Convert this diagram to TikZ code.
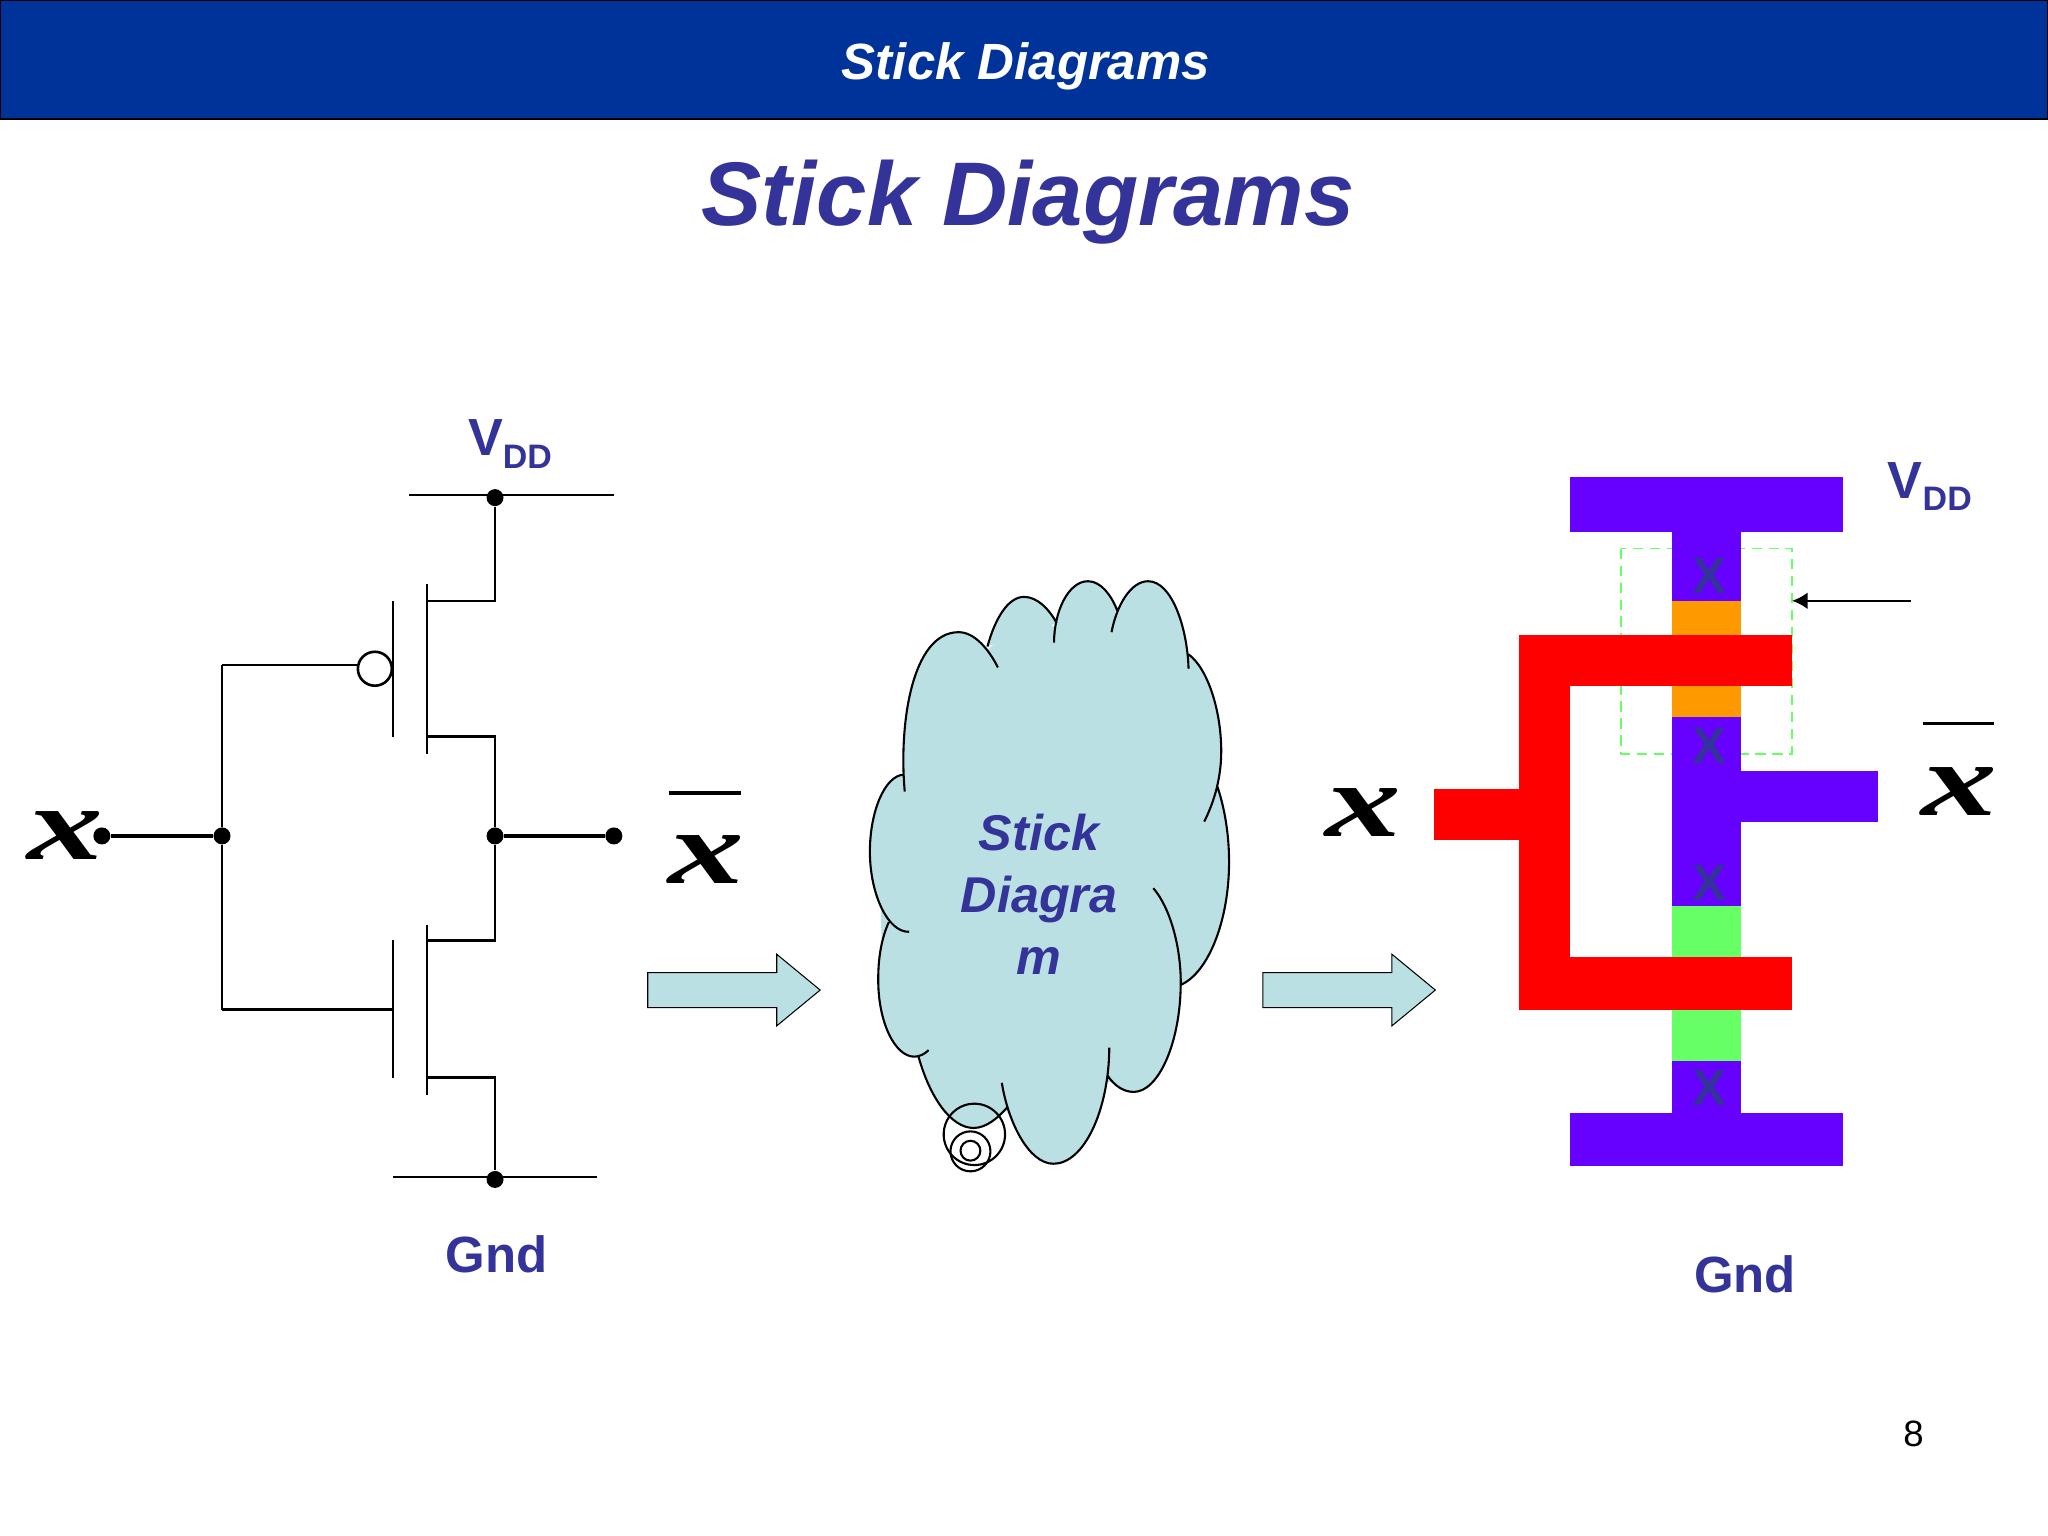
\documentclass[tikz,border=0pt]{standalone}
\usepackage{fontspec}
\setmainfont{Liberation Sans}
\newfontfamily\varfont{Liberation Serif}
\usetikzlibrary{shapes,arrows,arrows.meta,calc}
\definecolor{barblue}{HTML}{003399}
\definecolor{inkblue}{HTML}{333399}
\definecolor{cloudblue}{HTML}{BBE0E3}
\definecolor{metal}{HTML}{6600FF}
\definecolor{diffp}{HTML}{FF9900}
\definecolor{diffn}{HTML}{66FF66}
\tikzstyle{wire} = [draw, line width=1pt]
\tikzstyle{thickwire} = [draw, line width=1.3pt]
\tikzstyle{dot} = [circle, fill=black, inner sep=0pt, minimum size=6.5pt]
\tikzstyle{label} = [text=inkblue, font=\fontsize{19.5}{23.75}\selectfont\bfseries, inner sep=0pt]
\tikzstyle{cloudtext} = [label, font=\fontsize{19.25}{23.75}\selectfont\bfseries\itshape, align=center]
\tikzstyle{varname} = [inner sep=0pt, font=\fontsize{40}{40}\selectfont\varfont\bfseries\itshape]
\tikzstyle{bigarrow} = [single arrow, draw, fill=cloudblue, inner sep=0pt, text height=13pt, text depth=0pt,
    minimum height=66pt, minimum width=27pt, single arrow head extend=7pt, single arrow head indent=0pt,
    single arrow tip angle=79]
\newcommand{\vddtext}{V\raisebox{-4.75pt}{\fontsize{13}{13}\selectfont DD}}
\newcommand{\barx}{\scalebox{1.45}[1]{x}}
\newcommand{\cloudlobes}{
    (692.7,606) .. controls (688,555) and (698,484) .. (734,484) .. controls (746,484) and (757,497) .. (764,511)
    (756,495) .. controls (762,473) and (772,457) .. (784,457) .. controls (794,457) and (803,466) .. (809,477)
    (807,492) .. controls (807,468) and (818,445) .. (833,445) .. controls (843,445) and (851,456) .. (855.4,467.5)
    (851,484) .. controls (855,463) and (866,445) .. (879,445) .. controls (897,445) and (909,480) .. (910,512)
    (910,501) .. controls (925,512) and (935,545) .. (935,575) .. controls (935,595) and (930,613) .. (922,629)
    (932,602) .. controls (938,620) and (941,640) .. (941,660) .. controls (941,705) and (925,745) .. (904,754)
    (883,680) .. controls (896,695) and (904,725) .. (904,752) .. controls (904,798) and (887,836) .. (868,836) .. controls (860,836) and (853,831) .. (848,823.5)
    (849.3,802) .. controls (849,850) and (830,891) .. (806.5,891) .. controls (788,891) and (772,860) .. (767,829)
    (703.4,809.6) .. controls (712,840) and (728,863.6) .. (745.4,863.6) .. controls (755,863.6) and (764,856) .. (771,848)
    (711,804) .. controls (708,807) and (704,809) .. (700,809) .. controls (685,809) and (672,782) .. (672.4,749) .. controls (672.4,733) and (675,718) .. (680.5,706)
    (696,713.4) .. controls (680,714) and (666,685) .. (666,652) .. controls (666,622) and (677,594) .. (692,593)
}

\begin{document}
\begin{tikzpicture}[x=0.5pt, y=-0.5pt]
\useasboundingbox (0,0) rectangle (1568,1176);

%% Header and titles
\draw[fill=barblue, line width=0.6pt] (0,0) rectangle (1568,91);
\node [text=white, inner sep=0pt, font=\fontsize{19.5}{24}\selectfont\bfseries\itshape] (header) at (785.5,50.5) {Stick Diagrams};
\node [text=inkblue, inner sep=0pt, font=\fontsize{34.6}{40}\selectfont\bfseries\itshape] (title) at (787,155) {Stick Diagrams};
\node [inner sep=0pt, font=\fontsize{14}{16}\selectfont] (pagenum) at (1465,1098) {8};

%% Place circuit nodes
\node [dot] (vddtap) at (379,381) {};
\node [dot] (gndtap) at (379,903) {};
\node [dot] (input) at (78,640) {};
\node [dot] (fork) at (170,640) {};
\node [dot] (outtap) at (379,640) {};
\node [dot] (output) at (470,640) {};
\node [circle, draw, line width=1pt, fill=white, inner sep=0pt, minimum size=13pt] (bubble) at (287,512) {};
\coordinate (vddl) at (313,379);
\coordinate (vddr) at (470,379);
\coordinate (gndl) at (301,901);
\coordinate (gndr) at (457,901);
\coordinate (pgatein) at (170,509);
\coordinate (ngatein) at (170,773);
\coordinate (pgatetop) at (301,460);
\coordinate (pgatebot) at (301,564);
\coordinate (pchantop) at (327,447);
\coordinate (pchanbot) at (327,577);
\coordinate (ngatetop) at (301,720);
\coordinate (ngatebot) at (301,825);
\coordinate (nchantop) at (327,708);
\coordinate (nchanbot) at (327,838);

%% Draw the circuit wires
\draw [wire] (vddl) -- (vddr);
\draw [wire] (gndl) -- (gndr);
\draw [wire] (pgatetop) -- (pgatebot);
\draw [wire] (pchantop) -- (pchanbot);
\draw [wire] (ngatetop) -- (ngatebot);
\draw [wire] (nchantop) -- (nchanbot);
\draw [wire] (vddtap) |- (327,460);
\draw [wire] (327,564) -| (outtap);
\draw [wire] (outtap) |- (327,720);
\draw [wire] (gndtap) |- (327,825);
\draw [wire] (pgatein) -- (fork);
\draw [wire] (fork) -- (ngatein);
\draw [wire] (pgatein) -- (bubble.west |- pgatein);
\draw [wire] (ngatein) -- (ngatein -| ngatetop);
\draw [thickwire] (input) -- (fork);
\draw [thickwire] (outtap) -- (output);

%% Circuit labels
\node [label, anchor=base west] (vddleft) at (358,349) {\fontsize{20}{20}\selectfont\vddtext};
\node [label] (gndleft) at (380,960) {Gnd};
\node [varname] (xleft) at (50,640) {\barx};
\node [varname] (xbarleft) at (541,658) {\barx};
\coordinate (barla) at (512,607);
\coordinate (barlb) at (567,607);
\draw [line width=1.3pt] (barla) -- (barlb);

%% Block arrows
\node [bigarrow] (arrowa) at (553.8,758) {};
\node [bigarrow] (arrowb) at (1024.8,758) {};

%% Cloud
\fill [cloudblue] plot coordinates {(692,600) (700,540) (735,490) (757,497) (790,465) (809,482) (833,450) (855,470) (880,450) (908,500) (930,580) (935,650) (920,730) (903,752) (897,790) (867,832) (847,828) (820,884) (790,880) (770,850) (745,860) (712,830) (703,807) (680,780) (675,720) (672,620)} -- cycle;
\fill [cloudblue] \cloudlobes;
\draw [line width=0.8pt] \cloudlobes;
\draw [line width=0.8pt] (746,868.5) circle (23.5);
\draw [line width=0.8pt] (743,881.5) circle (15.3);
\draw [line width=0.8pt] (743,881) circle (7.6);
\node [cloudtext] (cloudlabel) at (795.5,685) {Stick\\Diagra\\m};

%% Layout: dashed well first, then the layers
\draw [diffn, dashed, line width=0.7pt, dash pattern=on 4pt off 2.5pt] (1241,420) rectangle (1372,577);
\fill [metal] (1202,365) rectangle (1411,407);
\fill [metal] (1202,852) rectangle (1411,893);
\fill [metal] (1280,407) rectangle (1333,460);
\fill [diffp] (1280,460) rectangle (1333,549);
\fill [metal] (1280,549) rectangle (1333,694);
\fill [metal] (1333,590) rectangle (1438,629);
\fill [diffn] (1280,694) rectangle (1333,812);
\fill [metal] (1280,812) rectangle (1333,852);
\fill [red] (1163,486) rectangle (1372,525);
\fill [red] (1163,486) rectangle (1202,773);
\fill [red] (1163,733) rectangle (1372,773);
\fill [red] (1098,604) rectangle (1163,643);
\foreach \y/\name in {441/a,571/b,676/c,833/d}{
    \node [label] (contact\name) at (1309,\y) {X};
}

%% Layout labels and pointer
\coordinate (wellpoint) at (1372,460);
\coordinate (pointertail) at (1463,460);
\draw [-{Latex[length=6pt,width=6.5pt]}, line width=1pt] (pointertail) -- (wellpoint);
\node [label, anchor=base west] (vddright) at (1445,381.5) {\fontsize{20}{20}\selectfont\vddtext};
\node [label] (gndright) at (1336,975.5) {Gnd};
\node [varname] (xmid) at (1044,622) {\barx};
\node [varname] (xbarright) at (1500,606) {\barx};
\coordinate (barra) at (1472,554);
\coordinate (barrb) at (1527,554);
\draw [line width=1.3pt] (barra) -- (barrb);
\end{tikzpicture}
\end{document}
